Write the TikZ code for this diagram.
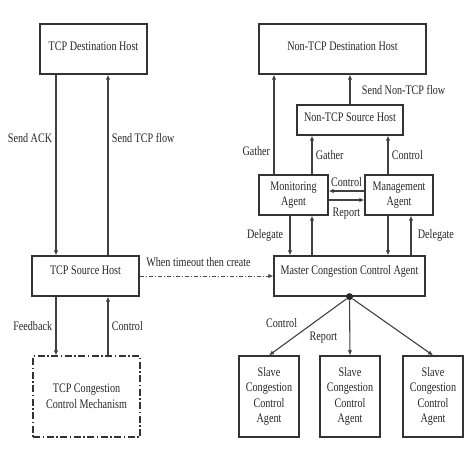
\documentclass[tikz,border=0pt]{standalone}
\usepackage{fontspec}
\setmainfont[FakeStretch=0.78]{Liberation Serif}
\usetikzlibrary{arrows.meta,positioning,calc}
\tikzset{
    >={Latex[length=5pt,width=4.5pt]},
    box/.style={
        rectangle,
        draw=black!80, line width=1.3pt,
        align=center,
        text=black!85,
        font={\fontsize{13pt}{15.5pt}\selectfont}
    },
    lift/.style={text height=9pt, text depth=#1},
    dashbox/.style={box, dash pattern=on 7pt off 2.5pt on 1.5pt off 2.5pt},
    line/.style={draw=black!75, line width=1.1pt, ->},
    timeout/.style={draw=black!70, line width=0.7pt, ->,
        dash pattern=on 4pt off 2pt on 1pt off 2pt},
    lbl/.style={font={\fontsize{13pt}{15pt}\selectfont}, text=black!85},
}
\begin{document}
\begin{tikzpicture}[x=1pt, y=-1pt]
\useasboundingbox (0,0) rectangle (474,450);

% TCP side
\node [box, lift=6.4pt, minimum width=107pt, minimum height=50pt] (tcpdst) at (93.5,49) {TCP Destination Host};
\node [box, lift=12.4pt, minimum width=107pt, minimum height=40pt] (tcpsrc) at (85.5,276) {TCP Source Host};
\node [dashbox, minimum width=107pt, minimum height=81pt] (tcpcc) at (86.5,396.5) {TCP Congestion\\Control Mechanism};

% Non-TCP side
\node [box, lift=5.5pt, minimum width=167pt, minimum height=50pt] (ntdst) at (342.5,49) {Non-TCP Destination Host};
\node [box, lift=6.4pt, minimum width=106pt, minimum height=30pt] (ntsrc) at (350,120) {Non-TCP Source Host};
\node [box, minimum width=69pt, minimum height=40pt] (mon) at (293.5,195) {Monitoring\\Agent};
\node [box, minimum width=68pt, minimum height=40pt] (mgmt) at (399,195) {Management\\Agent};
\node [box, lift=12.4pt, minimum width=151pt, minimum height=40pt] (master) at (349.5,276) {Master Congestion Control Agent};

\foreach \x [count=\i] in {269,350,433}
  \node [box, minimum width=60pt, minimum height=81pt] (slave-\i) at (\x,396.5) {Slave\\Congestion\\Control\\Agent};

\node [circle, fill=black!85, inner sep=0pt, minimum size=7pt] (hub) at (master.south) {};

% columns of the vertical arrows
\coordinate (colA) at (56,0);
\coordinate (colB) at (108,0);
\coordinate (colC) at (274,0);
\coordinate (colD) at (290,0);
\coordinate (colE) at (312,0);
\coordinate (colF) at (388,0);
\coordinate (colG) at (411,0);

\draw [line] (tcpdst.south -| colA) -- (tcpsrc.north -| colA)
  node [lbl, pos=0.35, left] {Send ACK};
\draw [line] (tcpsrc.north -| colB) -- (tcpdst.south -| colB)
  node [lbl, pos=0.65, right] {Send TCP flow};
\draw [line] (tcpsrc.south -| colA) -- (tcpcc.north -| colA)
  node [lbl, midway, left] {Feedback};
\draw [line] (tcpcc.north -| colB) -- (tcpsrc.south -| colB)
  node [lbl, midway, right] {Control};
\draw [timeout] (tcpsrc.east) -- (master.west)
  node [lbl, pos=0.44, above=6pt] {When timeout then create};

\draw [line] (ntsrc.north) -- (ntdst.south -| ntsrc.north)
  node [lbl, midway, right=8pt] {Send Non-TCP flow};
\draw [line] (mon.north -| colC) -- (ntdst.south -| colC)
  node [lbl, pos=0.23, left] {Gather};
\draw [line] (mon.north -| colE) -- (ntsrc.south -| colE)
  node [lbl, midway, right] {Gather};
\draw [line] (mgmt.north -| colF) -- (ntsrc.south -| colF)
  node [lbl, midway, right] {Control};

\draw [line] ([yshift=4pt]mgmt.west) -- ([yshift=4pt]mon.east)
  node [lbl, midway, above=0pt] {Control};
\draw [line] ([yshift=-5pt]mon.east) -- ([yshift=-5pt]mgmt.west)
  node [lbl, midway, below=4pt] {Report};

\draw [line] (mon.south -| colD) -- (master.north -| colD)
  node [lbl, midway, left=3pt] {Delegate};
\draw [line] (master.north -| colE) -- (mon.south -| colE);
\draw [line] (mgmt.south -| colF) -- (master.north -| colF);
\draw [line] (master.north -| colG) -- (mgmt.south -| colG)
  node [lbl, midway, right=3pt] {Delegate};

\draw [line] (hub) -- (slave-1.north)
  node [lbl, pos=0.42, left=13pt] {Control}
  node [lbl, pos=0.68, right=12pt] {Report};
\foreach \i in {2,3}
  \draw [line] (hub) -- (slave-\i.north);

\end{tikzpicture}
\end{document}
